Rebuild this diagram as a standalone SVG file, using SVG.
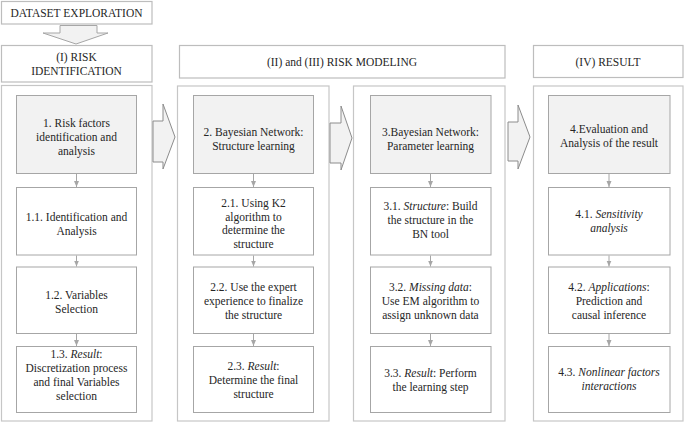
<svg xmlns="http://www.w3.org/2000/svg" width="685" height="424" viewBox="0 0 685 424">
<defs>
<style>
.bg{fill:#ffffff}
.panel{fill:#ffffff;stroke:#c6c6c6;stroke-width:1.2}
.hdr{fill:#ffffff;stroke:#bdbdbd;stroke-width:1.2}
.box{fill:#ffffff;stroke:#a6a6a6;stroke-width:1}
.gbox{fill:#f2f2f2;stroke:#a6a6a6;stroke-width:1}
.big{fill:#f2f2f2;stroke:#8c8c8c;stroke-width:1}
.con{stroke:#a6a6a6;stroke-width:1;fill:none;marker-end:url(#ah)}
text{font-family:"Liberation Serif","Times New Roman",serif;font-size:11.5px;fill:#262626;text-anchor:middle}
.i{font-style:italic}
</style>
<marker id="ah" viewBox="0 0 6 6" refX="6" refY="3" markerWidth="6" markerHeight="6" markerUnits="userSpaceOnUse" orient="auto">
<path d="M0,0.5 L6,3 L0,5.5 Z" fill="#a6a6a6"/>
</marker>
</defs>
<rect class="bg" x="0" y="0" width="685" height="424"/>

<g id="dataset">
<rect class="hdr" x="1.5" y="1.5" width="150.5" height="22.5"/>
<text x="76.5" y="17">DATASET EXPLORATION</text>
</g>
<g id="down-arrow">
<polygon class="big" points="60,25.5 97,25.5 97,33 108,33 76,44 43,33 60,33" style="stroke:#a6a6a6"/>
</g>

<g id="hdr1">
<rect class="hdr" x="1.5" y="45.5" width="150.5" height="36.5"/>
<text x="76.5" y="60.5">(I) RISK</text>
<text x="76.5" y="74.5">IDENTIFICATION</text>
</g>
<g id="hdr23">
<rect class="hdr" x="179.5" y="45.5" width="325.5" height="32.5"/>
<text x="342" y="65.5">(II) and (III) RISK MODELING</text>
</g>
<g id="hdr4">
<rect class="hdr" x="533.5" y="45.5" width="149.5" height="32"/>
<text x="608" y="65.5">(IV) RESULT</text>
</g>

<g id="panel1"><rect class="panel" x="1.5" y="85.5" width="150.5" height="335.5"/></g>
<g id="panel2"><rect class="panel" x="177.5" y="86" width="151.5" height="335"/></g>
<g id="panel3"><rect class="panel" x="353.5" y="86" width="151.5" height="335"/></g>
<g id="panel4"><rect class="panel" x="533.5" y="86" width="149.5" height="335"/></g>

<g id="arrow1"><polygon class="big" points="153,121 163,121 163,104 175,137 163,169 163,162 153,162"/></g>
<g id="arrow2"><polygon class="big" points="330,123 341,123 341,106 352,138 341,170 341,163 330,163"/></g>
<g id="arrow3"><polygon class="big" points="508,122 518,122 518,105 530,137 518,169 518,161 508,161"/></g>

<!-- Column I -->
<g id="n1">
<rect class="gbox" x="16.5" y="95.5" width="120" height="78"/>
<text x="76.5" y="127">1. Risk factors</text>
<text x="76.5" y="141">identification and</text>
<text x="76.5" y="155">analysis</text>
</g>
<g id="n1-1">
<rect class="box" x="16.5" y="187.5" width="120" height="67.5"/>
<text x="76.5" y="221">1.1. Identification and</text>
<text x="76.5" y="235">Analysis</text>
</g>
<g id="n1-2">
<rect class="box" x="16.5" y="267" width="120" height="66.5"/>
<text x="76.5" y="299">1.2. Variables</text>
<text x="76.5" y="313">Selection</text>
</g>
<g id="n1-3">
<rect class="box" x="16.5" y="346.5" width="120" height="66"/>
<text x="76.5" y="358">1.3. <tspan class="i">Result</tspan>:</text>
<text x="76.5" y="372">Discretization process</text>
<text x="76.5" y="386">and final Variables</text>
<text x="76.5" y="400">selection</text>
</g>

<!-- Column II -->
<g id="n2">
<rect class="gbox" x="193.5" y="95.5" width="120" height="78"/>
<text x="253.5" y="136">2. Bayesian Network:</text>
<text x="253.5" y="150">Structure learning</text>
</g>
<g id="n2-1">
<rect class="box" x="193.5" y="187.5" width="120" height="67.5"/>
<text x="253.5" y="207">2.1. Using K2</text>
<text x="253.5" y="220.5">algorithm to</text>
<text x="253.5" y="234">determine the</text>
<text x="253.5" y="247.5">structure</text>
</g>
<g id="n2-2">
<rect class="box" x="193.5" y="267" width="120" height="66.5"/>
<text x="253.5" y="290.5">2.2. Use the expert</text>
<text x="253.5" y="304.5">experience to finalize</text>
<text x="253.5" y="318.5">the structure</text>
</g>
<g id="n2-3">
<rect class="box" x="193.5" y="346.5" width="120" height="66"/>
<text x="253.5" y="369.5">2.3. <tspan class="i">Result</tspan>:</text>
<text x="253.5" y="383.5">Determine the final</text>
<text x="253.5" y="397.5">structure</text>
</g>

<!-- Column III -->
<g id="n3">
<rect class="gbox" x="370.5" y="95.5" width="120.5" height="78"/>
<text x="430.5" y="136">3.Bayesian Network:</text>
<text x="430.5" y="150">Parameter learning</text>
</g>
<g id="n3-1">
<rect class="box" x="370.5" y="187.5" width="120.5" height="67.5"/>
<text x="430.5" y="209.5">3.1. <tspan class="i">Structure</tspan>: Build</text>
<text x="430.5" y="223.5">the structure in the</text>
<text x="430.5" y="237.5">BN tool</text>
</g>
<g id="n3-2">
<rect class="box" x="370.5" y="267" width="120.5" height="66.5"/>
<text x="430.5" y="290.5">3.2. <tspan class="i">Missing data</tspan>:</text>
<text x="430.5" y="304.5">Use EM algorithm to</text>
<text x="430.5" y="318.5">assign unknown data</text>
</g>
<g id="n3-3">
<rect class="box" x="370.5" y="346.5" width="120.5" height="66"/>
<text x="430.5" y="376.5">3.3. <tspan class="i">Result</tspan>: Perform</text>
<text x="430.5" y="390.5">the learning step</text>
</g>

<!-- Column IV -->
<g id="n4">
<rect class="gbox" x="548.5" y="95.5" width="121.5" height="78"/>
<text x="609" y="133">4.Evaluation and</text>
<text x="609" y="147">Analysis of the result</text>
</g>
<g id="n4-1">
<rect class="box" x="548.5" y="187.5" width="121.5" height="67.5"/>
<text x="609" y="218"><tspan>4.1. </tspan><tspan class="i">Sensitivity</tspan></text>
<text x="609" y="232" class="i">analysis</text>
</g>
<g id="n4-2">
<rect class="box" x="548.5" y="267" width="121.5" height="66.5"/>
<text x="609" y="290.5">4.2. <tspan class="i">Applications</tspan>:</text>
<text x="609" y="304.5">Prediction and</text>
<text x="609" y="318.5">causal inference</text>
</g>
<g id="n4-3">
<rect class="box" x="548.5" y="346.5" width="121.5" height="66"/>
<text x="609" y="376">4.3. <tspan class="i">Nonlinear factors</tspan></text>
<text x="609" y="390" class="i">interactions</text>
</g>

<g id="connectors">
<line class="con" x1="76.5" y1="174" x2="76.5" y2="187"/>
<line class="con" x1="76.5" y1="255.5" x2="76.5" y2="266.5"/>
<line class="con" x1="76.5" y1="334" x2="76.5" y2="346"/>
<line class="con" x1="253.5" y1="174" x2="253.5" y2="187"/>
<line class="con" x1="253.5" y1="255.5" x2="253.5" y2="266.5"/>
<line class="con" x1="253.5" y1="334" x2="253.5" y2="346"/>
<line class="con" x1="430.5" y1="174" x2="430.5" y2="187"/>
<line class="con" x1="430.5" y1="255.5" x2="430.5" y2="266.5"/>
<line class="con" x1="430.5" y1="334" x2="430.5" y2="346"/>
<line class="con" x1="609" y1="174" x2="609" y2="187"/>
<line class="con" x1="609" y1="255.5" x2="609" y2="266.5"/>
<line class="con" x1="609" y1="334" x2="609" y2="346"/>
</g>
</svg>
